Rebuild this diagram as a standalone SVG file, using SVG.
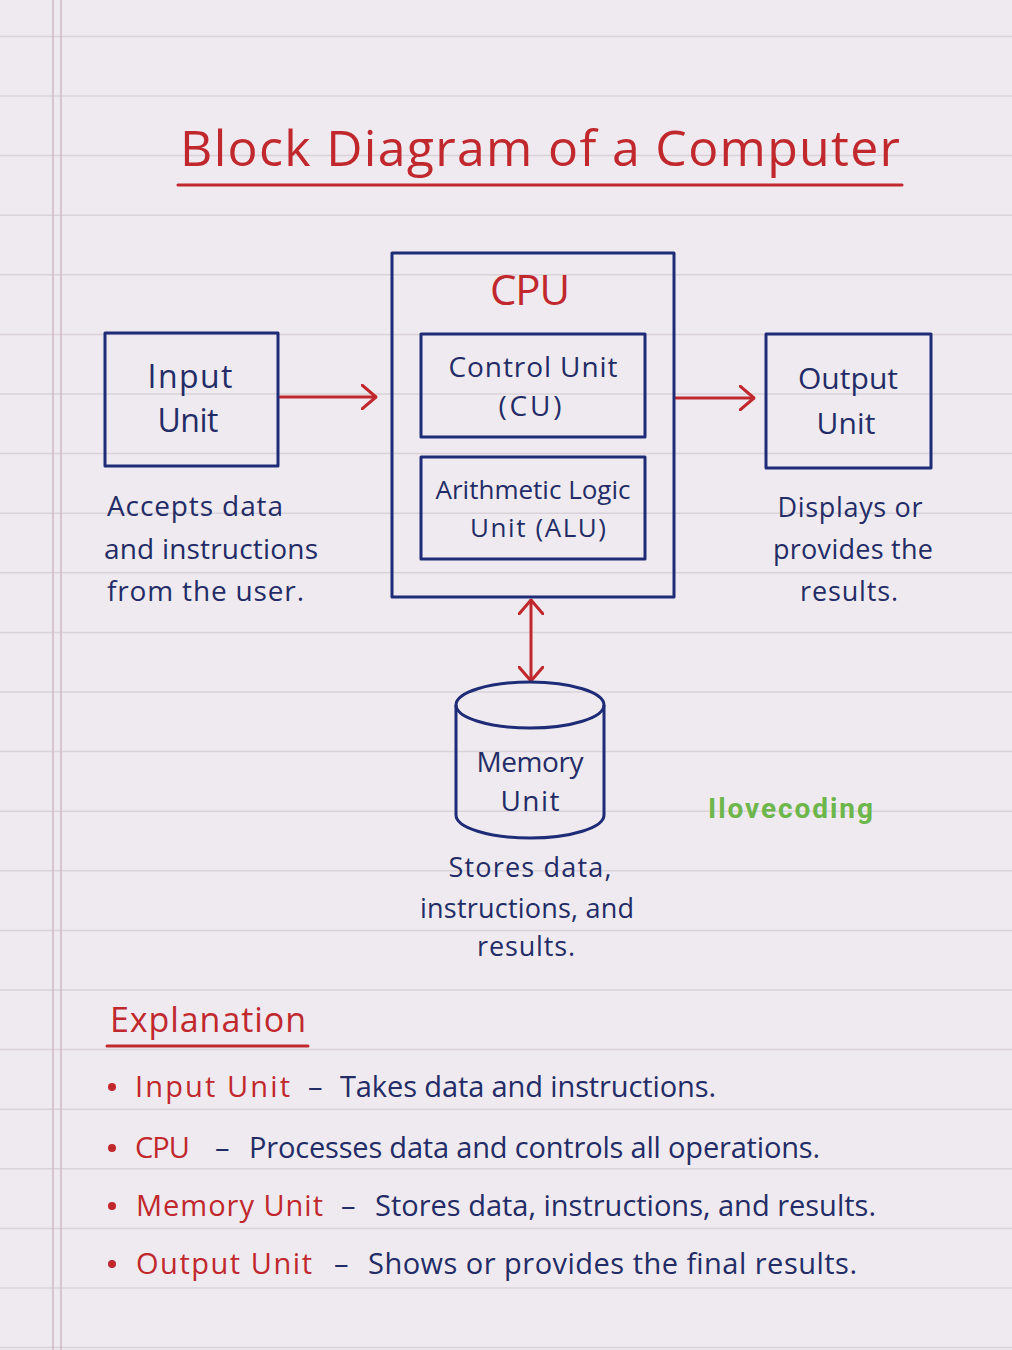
<svg xmlns="http://www.w3.org/2000/svg" width="1012" height="1350" viewBox="0 0 1012 1350">
<defs>
<style>
.bg{fill:#efeaef}
.rule{stroke:#d9d3d9;stroke-width:1.5}
.margin{stroke:#cdb9c3;stroke-width:1.5}
.box{fill:none;stroke:#1e2c78;stroke-width:3;stroke-linejoin:round}
.t{font-family:"Open Sans","Noto Sans","DejaVu Sans",sans-serif;fill:#232c66}
.r{fill:#c0282d}
.c{text-anchor:middle}
.conn{stroke:#c0282d;stroke-width:3;fill:none;stroke-linecap:round}
</style>
<marker id="ah" viewBox="0 0 16 26" refX="15" refY="13" markerWidth="16" markerHeight="26" markerUnits="userSpaceOnUse" orient="auto-start-reverse">
<path d="M1,1 L15,13 L1,25" fill="none" stroke="#c0282d" stroke-width="3" stroke-linecap="round" stroke-linejoin="round"/>
</marker>
</defs>
<rect class="bg" x="0" y="0" width="1012" height="1350"/>
<g id="paper">
<line class="rule" x1="0" y1="36.4" x2="1012" y2="36.4"/>
<line class="rule" x1="0" y1="96" x2="1012" y2="96"/>
<line class="rule" x1="0" y1="155.6" x2="1012" y2="155.6"/>
<line class="rule" x1="0" y1="215.2" x2="1012" y2="215.2"/>
<line class="rule" x1="0" y1="274.8" x2="1012" y2="274.8"/>
<line class="rule" x1="0" y1="334.4" x2="1012" y2="334.4"/>
<line class="rule" x1="0" y1="394" x2="1012" y2="394"/>
<line class="rule" x1="0" y1="453.6" x2="1012" y2="453.6"/>
<line class="rule" x1="0" y1="513.2" x2="1012" y2="513.2"/>
<line class="rule" x1="0" y1="572.8" x2="1012" y2="572.8"/>
<line class="rule" x1="0" y1="632.4" x2="1012" y2="632.4"/>
<line class="rule" x1="0" y1="692" x2="1012" y2="692"/>
<line class="rule" x1="0" y1="751.6" x2="1012" y2="751.6"/>
<line class="rule" x1="0" y1="811.2" x2="1012" y2="811.2"/>
<line class="rule" x1="0" y1="870.8" x2="1012" y2="870.8"/>
<line class="rule" x1="0" y1="930.4" x2="1012" y2="930.4"/>
<line class="rule" x1="0" y1="990" x2="1012" y2="990"/>
<line class="rule" x1="0" y1="1049.6" x2="1012" y2="1049.6"/>
<line class="rule" x1="0" y1="1109.2" x2="1012" y2="1109.2"/>
<line class="rule" x1="0" y1="1168.8" x2="1012" y2="1168.8"/>
<line class="rule" x1="0" y1="1228.4" x2="1012" y2="1228.4"/>
<line class="rule" x1="0" y1="1288" x2="1012" y2="1288"/>
<line class="rule" x1="0" y1="1347.6" x2="1012" y2="1347.6"/>
<line class="margin" x1="53" y1="0" x2="53" y2="1350"/>
<line class="margin" x1="61" y1="0" x2="61" y2="1350"/>
</g>
<g id="title">
<text class="t r" x="180" y="166" font-size="50" textLength="720" lengthAdjust="spacing">Block Diagram of a Computer</text>
<line x1="178" y1="185" x2="902" y2="185" stroke="#c0282d" stroke-width="3" stroke-linecap="round"/>
</g>
<g id="connectors">
<line class="conn" x1="280" y1="397" x2="376" y2="397" marker-end="url(#ah)"/>
<line class="conn" x1="676" y1="398" x2="754" y2="398" marker-end="url(#ah)"/>
<line class="conn" x1="531" y1="600" x2="531" y2="681" marker-start="url(#ah)" marker-end="url(#ah)"/>
</g>
<g id="input-unit">
<rect class="box" x="105" y="333" width="173" height="133"/>
<text class="t c" x="190" y="388" font-size="32" textLength="85" lengthAdjust="spacing">Input</text>
<text class="t c" x="188" y="432" font-size="32" textLength="61" lengthAdjust="spacing">Unit</text>
<text class="t" x="107" y="516" font-size="28" textLength="176" lengthAdjust="spacing">Accepts data</text>
<text class="t" x="104" y="559" font-size="28" textLength="214" lengthAdjust="spacing">and instructions</text>
<text class="t" x="107" y="601" font-size="28" textLength="197" lengthAdjust="spacing">from the user.</text>
</g>
<g id="cpu">
<rect class="box" x="392" y="253" width="282" height="344"/>
<text class="t r c" x="530" y="305" font-size="42" textLength="80" lengthAdjust="spacing">CPU</text>
</g>
<g id="control-unit">
<rect class="box" x="421" y="334" width="224" height="103"/>
<text class="t c" x="533" y="377" font-size="28" textLength="169" lengthAdjust="spacing">Control Unit</text>
<text class="t c" x="530" y="416" font-size="28" textLength="63" lengthAdjust="spacing">(CU)</text>
</g>
<g id="alu">
<rect class="box" x="421" y="457" width="224" height="102"/>
<text class="t c" x="533" y="499" font-size="26" textLength="195" lengthAdjust="spacing">Arithmetic Logic</text>
<text class="t c" x="538" y="537" font-size="26" textLength="136" lengthAdjust="spacing">Unit (ALU)</text>
</g>
<g id="output-unit">
<rect class="box" x="766" y="334" width="165" height="134"/>
<text class="t c" x="848" y="389" font-size="30" textLength="100" lengthAdjust="spacing">Output</text>
<text class="t c" x="846" y="434" font-size="30" textLength="59" lengthAdjust="spacing">Unit</text>
<text class="t c" x="850" y="517" font-size="27" textLength="145" lengthAdjust="spacing">Displays or</text>
<text class="t c" x="853" y="559" font-size="27" textLength="160" lengthAdjust="spacing">provides the</text>
<text class="t c" x="849" y="601" font-size="27" textLength="98" lengthAdjust="spacing">results.</text>
</g>
<g id="memory-unit">
<path class="box" d="M456,705 L456,815 A74,23 0 0 0 604,815 L604,705"/>
<ellipse class="box" cx="530" cy="705" rx="74" ry="23"/>
<text class="t c" x="530" y="772" font-size="28" textLength="107" lengthAdjust="spacing">Memory</text>
<text class="t c" x="530" y="811" font-size="28" textLength="59" lengthAdjust="spacing">Unit</text>
<text class="t c" x="530" y="877" font-size="27" textLength="163" lengthAdjust="spacing">Stores data,</text>
<text class="t c" x="527" y="918" font-size="27" textLength="214" lengthAdjust="spacing">instructions, and</text>
<text class="t c" x="526" y="956" font-size="27" textLength="98" lengthAdjust="spacing">results.</text>
</g>
<g id="watermark">
<text x="708" y="818" font-family="Roboto,'Liberation Sans',sans-serif" font-weight="bold" font-size="28" fill="#6cb64c" textLength="165" lengthAdjust="spacing">Ilovecoding</text>
</g>
<g id="explanation">
<text class="t r" x="110" y="1032" font-size="34" textLength="196" lengthAdjust="spacing">Explanation</text>
<line x1="107" y1="1046" x2="308" y2="1046" stroke="#c0282d" stroke-width="3" stroke-linecap="round"/>
<circle cx="112" cy="1087" r="4" fill="#c0282d"/>
<text class="t r" x="135" y="1097" font-size="29" textLength="155" lengthAdjust="spacing">Input Unit</text>
<text class="t" x="308" y="1097" font-size="29">–</text>
<text class="t" x="340" y="1097" font-size="29" textLength="376" lengthAdjust="spacing">Takes data and instructions.</text>
<circle cx="112" cy="1148" r="4" fill="#c0282d"/>
<text class="t r" x="135" y="1158" font-size="29" textLength="55" lengthAdjust="spacing">CPU</text>
<text class="t" x="215" y="1158" font-size="29">–</text>
<text class="t" x="249" y="1158" font-size="29" textLength="571" lengthAdjust="spacing">Processes data and controls all operations.</text>
<circle cx="112" cy="1206" r="4" fill="#c0282d"/>
<text class="t r" x="136" y="1216" font-size="29" textLength="187" lengthAdjust="spacing">Memory Unit</text>
<text class="t" x="341" y="1216" font-size="29">–</text>
<text class="t" x="375" y="1216" font-size="29" textLength="501" lengthAdjust="spacing">Stores data, instructions, and results.</text>
<circle cx="112" cy="1264" r="4" fill="#c0282d"/>
<text class="t r" x="136" y="1274" font-size="29" textLength="176" lengthAdjust="spacing">Output Unit</text>
<text class="t" x="334" y="1274" font-size="29">–</text>
<text class="t" x="368" y="1274" font-size="29" textLength="489" lengthAdjust="spacing">Shows or provides the final results.</text>
</g>
</svg>
